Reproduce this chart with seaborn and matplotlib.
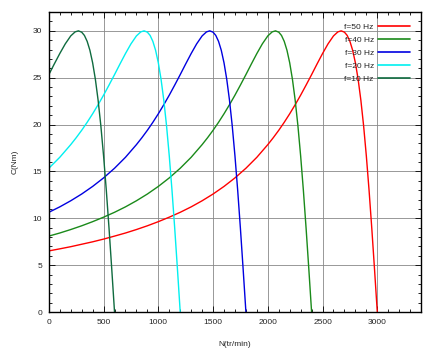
import numpy as np
import pandas as pd
import matplotlib
matplotlib.use("Agg")
import matplotlib.pyplot as plt
import seaborn as sns
from matplotlib.ticker import MultipleLocator

# torque C (Nm) vs speed N (tr/min)
n_50 = [0, 100, 200, 300, 400, 500, 600, 700, 800, 900, 1000, 1100, 1200, 1300, 1400, 1500, 1600, 1700, 1800, 1900,
        2000, 2050, 2100, 2150, 2200, 2250, 2300, 2350, 2400, 2450, 2500, 2550, 2600, 2640, 2670, 2700, 2725, 2750,
        2775, 2800, 2825, 2850, 2875, 2900, 2925, 2950, 2975, 3000]
c_50 = [6.52, 6.74, 6.97, 7.23, 7.49, 7.78, 8.10, 8.43, 8.80, 9.20, 9.64, 10.12, 10.64, 11.22, 11.87, 12.59, 13.40,
        14.31, 15.34, 16.51, 17.86, 18.60, 19.39, 20.24, 21.15, 22.12, 23.14, 24.22, 25.33, 26.47, 27.58, 28.61, 29.46,
        29.89, 30.0, 29.86, 29.51, 28.88, 27.93, 26.59, 24.83, 22.60, 19.88, 16.65, 12.97, 8.89, 4.52, 0]

n_40 = [0, 100, 200, 300, 400, 500, 600, 700, 800, 900, 1000, 1100, 1200, 1300, 1400, 1450, 1500, 1550, 1600, 1650,
        1700, 1750, 1800, 1850, 1900, 1950, 2000, 2040, 2070, 2100, 2125, 2150, 2175, 2200, 2225, 2250, 2275, 2300,
        2325, 2350, 2375, 2400]
c_40 = [8.10, 8.43, 8.80, 9.20, 9.64, 10.12, 10.64, 11.22, 11.87, 12.59, 13.40, 14.31, 15.34, 16.51, 17.86, 18.60,
        19.39, 20.24, 21.15, 22.12, 23.14, 24.22, 25.33, 26.47, 27.58, 28.61, 29.46, 29.89, 30.0, 29.86, 29.51, 28.88,
        27.93, 26.59, 24.83, 22.60, 19.88, 16.65, 12.97, 8.89, 4.52, 0]

n_30 = [0, 100, 200, 300, 400, 500, 600, 700, 800, 850, 900, 950, 1000, 1050, 1100, 1150, 1200, 1250, 1300, 1350,
        1400, 1440, 1470, 1500, 1525, 1550, 1575, 1600, 1625, 1650, 1675, 1700, 1725, 1750, 1775, 1800]
c_30 = [10.64, 11.22, 11.87, 12.59, 13.40, 14.31, 15.34, 16.51, 17.86, 18.60, 19.39, 20.24, 21.15, 22.12, 23.14,
        24.22, 25.33, 26.47, 27.58, 28.61, 29.46, 29.89, 30.0, 29.86, 29.51, 28.88, 27.93, 26.59, 24.83, 22.60, 19.88,
        16.65, 12.97, 8.89, 4.52, 0]

n_20 = [0, 100, 200, 250, 300, 350, 400, 450, 500, 550, 600, 650, 700, 750, 800, 840, 870, 900, 925, 950, 975, 1000,
        1025, 1050, 1075, 1100, 1125, 1150, 1175, 1200]
c_20 = [15.34, 16.51, 17.86, 18.60, 19.39, 20.24, 21.15, 22.12, 23.14, 24.22, 25.33, 26.47, 27.58, 28.61, 29.46,
        29.89, 30.0, 29.86, 29.51, 28.88, 27.93, 26.59, 24.83, 22.60, 19.88, 16.65, 12.97, 8.89, 4.52, 0]

n_10 = [0, 50, 100, 150, 200, 240, 270, 300, 325, 350, 375, 400, 425, 450, 475, 500, 525, 550, 575, 600]
c_10 = [25.33, 26.47, 27.58, 28.61, 29.46, 29.89, 30.0, 29.86, 29.51, 28.88, 27.93, 26.59, 24.83, 22.60, 19.88,
        16.65, 12.97, 8.89, 4.52, 0]

labels = ["f=50 Hz", "f=40 Hz", "f=30 Hz", "f=20 Hz", "f=10 Hz"]
colors = ["#ff0000", "#1a8a1a", "#0000e0", "#00f0f0", "#0f6b3f"]

frames = []
for lab, n, c in zip(labels, [n_50, n_40, n_30, n_20, n_10], [c_50, c_40, c_30, c_20, c_10]):
    frames.append(pd.DataFrame({"N": n, "C": c, "f": lab}))
df = pd.concat(frames, ignore_index=True)

sns.set_style("ticks")
plt.rcParams["font.family"] = ["Liberation Sans", "DejaVu Sans"]

fig = plt.figure(figsize=(4.4, 3.52), dpi=100)
ax = fig.add_axes([0.111, 0.1136, 0.846, 0.852])

sns.lineplot(data=df, x="N", y="C", hue="f", hue_order=labels, palette=colors,
             sort=False, estimator=None, linewidth=1.0, ax=ax)

ax.set_xlim(0, 3400)
ax.set_ylim(0, 32)
ax.xaxis.set_major_locator(MultipleLocator(500))
ax.xaxis.set_minor_locator(MultipleLocator(100))
ax.yaxis.set_major_locator(MultipleLocator(5))
ax.yaxis.set_minor_locator(MultipleLocator(1))
ax.set_xticks([0, 500, 1000, 1500, 2000, 2500, 3000])
ax.grid(True, which="major", color="#888888", linewidth=0.6)
ax.tick_params(which="both", direction="in", top=True, right=True, labelsize=6, pad=5, color="black")
ax.tick_params(which="major", length=4, width=0.6)
ax.tick_params(which="minor", length=2, width=0.6)
for s in ax.spines.values():
    s.set_color("black")
    s.set_linewidth(1.0)

ax.set_xlabel("N(tr/min)", fontsize=6, labelpad=11)
ax.set_ylabel("C(Nm)", fontsize=6, labelpad=10)

leg = ax.legend(loc="upper right", fontsize=6, frameon=False, markerfirst=False,
                handlelength=3.8, handletextpad=0.5, labelspacing=0.62,
                borderaxespad=0.3, bbox_to_anchor=(0.985, 0.983))
for h in leg.get_lines():
    h.set_linewidth(1.2)

fig.savefig("out.png", dpi=100)
